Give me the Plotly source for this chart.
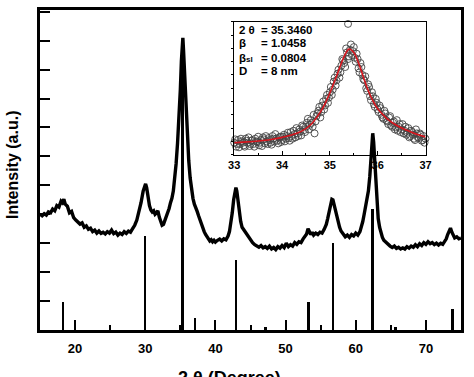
import plotly.graph_objects as go

# ---- main XRD pattern (2theta, intensity a.u.) ----
xrd_x = [15.0,15.3,15.6,15.9,16.2,16.5,16.8,17.1,17.4,17.7,18.0,18.2,18.4,18.6,18.9,19.2,19.5,19.8,20.1,20.4,
         20.7,21.0,21.3,21.6,21.9,22.2,22.5,22.8,23.1,23.4,23.7,24.0,24.3,24.6,24.9,25.2,25.5,25.8,26.1,26.4,
         26.7,27.0,27.3,27.6,27.9,28.2,28.5,28.8,29.1,29.4,29.7,29.9,30.05,30.2,30.4,30.6,30.8,31.0,31.2,31.4,
         31.6,31.8,32.0,32.2,32.4,32.6,32.8,33.0,33.2,33.4,33.6,33.8,34.0,34.2,34.4,34.6,34.8,35.0,35.15,35.3,
         35.36,35.45,35.6,35.8,36.0,36.2,36.4,36.6,36.8,37.0,37.2,37.4,37.6,37.8,38.0,38.2,38.4,38.6,38.8,39.0,
         39.2,39.4,39.6,39.8,40.0,40.3,40.6,40.9,41.2,41.5,41.8,42.0,42.2,42.4,42.6,42.8,42.92,43.05,43.2,43.4,
         43.6,43.8,44.0,44.2,44.4,44.6,44.8,45.0,45.3,45.6,45.9,46.2,46.5,46.8,47.1,47.4,47.7,48.0,48.3,48.6,
         48.9,49.2,49.5,49.8,50.1,50.4,50.7,51.0,51.3,51.6,51.9,52.2,52.5,52.8,53.0,53.2,53.4,53.6,53.8,54.0,
         54.3,54.6,54.9,55.2,55.5,55.8,56.0,56.2,56.4,56.6,56.75,56.9,57.1,57.3,57.5,57.7,57.9,58.1,58.3,58.5,
         58.8,59.1,59.4,59.7,60.0,60.3,60.6,60.8,61.0,61.2,61.4,61.6,61.8,62.0,62.15,62.3,62.42,62.55,62.7,62.85,
         63.0,63.2,63.4,63.6,63.8,64.0,64.3,64.6,64.9,65.2,65.5,65.8,66.1,66.4,66.7,67.0,67.3,67.6,67.9,68.2,
         68.5,68.8,69.1,69.4,69.7,70.0,70.3,70.6,70.9,71.2,71.5,71.8,72.1,72.4,72.7,72.9,73.1,73.3,73.5,73.7,
         73.9,74.1,74.4,74.7,75.0]
xrd_y = [4.00,3.95,4.02,3.97,4.08,4.05,4.18,4.12,4.30,4.25,4.45,4.40,4.52,4.35,4.28,4.05,4.10,3.88,3.80,3.72,
         3.66,3.70,3.55,3.60,3.48,3.52,3.40,3.45,3.35,3.42,3.34,3.38,3.32,3.40,3.35,3.45,3.33,3.38,3.28,3.35,
         3.30,3.40,3.34,3.42,3.38,3.50,3.62,3.80,4.05,4.40,4.80,5.00,5.05,4.92,4.55,4.30,4.15,4.08,4.12,4.00,
         4.05,4.12,3.90,3.75,3.62,3.65,3.78,3.92,4.05,4.20,4.40,4.55,4.80,5.20,5.75,6.45,7.25,8.30,9.30,10.00,
         10.10,9.70,8.90,7.70,6.70,5.85,5.25,4.85,4.55,4.35,4.25,4.10,3.95,3.80,3.62,3.52,3.40,3.30,3.22,3.15,
         3.08,3.12,3.05,3.10,3.04,3.10,3.14,3.08,3.15,3.12,3.25,3.40,3.70,4.05,4.50,4.85,4.92,4.80,4.45,4.05,
         3.75,3.55,3.48,3.40,3.30,3.25,3.20,3.12,3.02,2.95,2.90,2.86,2.92,2.84,2.88,2.82,2.90,2.80,2.85,2.78,
         2.88,2.83,2.92,2.85,3.00,2.88,2.95,2.90,3.02,2.96,3.05,3.02,3.15,3.25,3.32,3.50,3.40,3.30,3.38,3.28,
         3.35,3.30,3.38,3.35,3.48,3.65,3.85,4.10,4.35,4.52,4.50,4.35,4.10,3.88,3.70,3.55,3.42,3.35,3.28,3.22,
         3.28,3.20,3.30,3.25,3.35,3.28,3.40,3.55,3.75,4.00,4.25,4.50,4.80,5.30,5.90,6.55,6.80,6.50,5.80,5.00,
         4.30,3.85,3.55,3.32,3.20,3.10,3.02,2.96,2.90,2.85,2.90,2.82,2.86,2.80,2.84,2.80,2.88,2.83,2.90,2.86,
         2.95,2.88,2.98,2.92,3.02,2.96,3.05,2.98,3.02,2.95,3.00,2.94,3.00,2.96,3.05,3.15,3.30,3.45,3.52,3.38,
         3.25,3.18,3.22,3.15,3.18]

# ---- reference (standard) pattern sticks ----
ref_pos = [18.27, 29.97, 35.34, 37.07, 42.92, 47.1, 53.3, 56.75, 62.42, 65.65, 73.78]
ref_h = [0.97, 3.25, 9.0, 0.42, 2.42, 0.1, 0.97, 2.99, 4.17, 0.12, 0.74]

# ---- inset: (311) peak profile ----
obs_x1 = [33.00,33.04,33.08,33.12,33.16,33.20,33.24,33.28,33.32,33.36,33.40,33.44,33.48,33.52,33.56,33.60,33.64,
          33.68,33.72,33.76,33.80,33.84,33.88,33.92,33.96,34.00,34.04,34.08,34.12,34.16,34.20,34.24,34.28,34.32,
          34.36,34.40,34.44,34.48,34.52,34.56,34.60,34.64,34.68,34.72,34.76,34.80,34.84,34.88,34.92,34.96,35.00,
          35.04,35.08,35.12,35.16,35.20,35.24,35.28,35.32,35.36,35.40,35.44,35.48,35.52,35.56,35.60,35.64,35.68,
          35.72,35.76,35.80,35.84,35.88,35.92,35.96,36.00,36.04,36.08,36.12,36.16,36.20,36.24,36.28,36.32,36.36,
          36.40,36.44,36.48,36.52,36.56,36.60,36.64,36.68,36.72,36.76,36.80,36.84,36.88,36.92,36.96,37.00]
obs_y1 = [9,6,11,8,10,7,12,9,6.5,10.5,8,12,9.5,7,11,13,8.5,10,12.5,9,14,10,12,8.5,13.5,
          11,15,12,16.5,10.5,14,18,13,16,19,14.5,21,17,24,19,26,21,16,29,33,28,37,34,42,39,47,
          45,55,52,61,58,67,71,66,77,74,83,78,73,76,65,69,60,56,50,53,44,47,38,42,34,37,30,27,31,25,28,22,24,19,
          26,21,17,23,18,15,20,14,17,12,19,13,16,10.5,14,12]
obs_x2 = [33.02,33.06,33.10,33.14,33.18,33.22,33.26,33.30,33.34,33.38,33.42,33.46,33.50,33.54,33.58,33.62,33.66,
          33.70,33.74,33.78,33.82,33.86,33.90,33.94,33.98,34.02,34.06,34.10,34.14,34.18,34.22,34.26,34.30,34.34,
          34.38,34.42,34.46,34.50,34.54,34.58,34.62,34.66,34.70,34.74,34.78,34.82,34.86,34.90,34.94,34.98,35.02,
          35.06,35.10,35.14,35.18,35.22,35.26,35.30,35.34,35.38,35.42,35.46,35.50,35.54,35.58,35.62,35.66,35.70,
          35.74,35.78,35.82,35.86,35.90,35.94,35.98,36.02,36.06,36.10,36.14,36.18,36.22,36.26,36.30,36.34,36.38,
          36.42,36.46,36.50,36.54,36.58,36.62,36.66,36.70,36.74,36.78,36.82,36.86,36.90,36.94,36.98,35.38]
obs_y2 = [11.5,8,5.5,12,9,6,10.5,13,8,11,6,10,13.5,9,6.5,11.5,14,8,11,7.5,12,15.5,10.5,13,9.5,
          13.5,10,14,12.5,17,12,15.5,20,14,17.5,22,18.5,21,27,22.5,24,30,25,31,36,32,40,37,45,43,51,
          49,58,56,64,62,72,69,80,72,79,75,81,70,72,62,66,57,59,48,51,41,44,36,39,32,35,28,33,26,23,29,21,25,20.5,
          18,23,19,16,21,16.5,13,18,15,11,16,12.5,15,11,9,98.5]

fit_x = [33.0,33.2,33.4,33.6,33.8,34.0,34.2,34.4,34.6,34.8,34.9,35.0,35.1,35.2,35.3,35.4,35.5,35.6,35.7,35.8,
         35.9,36.0,36.2,36.4,36.6,36.8,37.0]
fit_y = [9.0,9.4,9.9,10.6,11.6,13.0,14.8,17.5,22.5,32.0,38.5,46.5,55.5,65.0,74.0,79.5,77.0,69.0,58.5,48.5,
         40.5,34.5,27.0,22.0,18.5,15.5,13.4]

ann_labels = ["2 θ", "β", "β<span style='font-size:8px'>sl</span>", "D"]
ann_values = ["= 35.3460", "= 1.0458", "= 0.0804", "= 8 nm"]

FONT = "Liberation Sans, Arial, sans-serif"

fig = go.Figure()

# inset traces (first subplot, drawn underneath main)
fig.add_trace(go.Scatter(x=obs_x1 + obs_x2, y=obs_y1 + obs_y2, mode="markers",
                         marker=dict(symbol="circle-open", size=7, color="#444", line=dict(width=0.9)),
                         xaxis="x", yaxis="y", showlegend=False, cliponaxis=False))
fig.add_trace(go.Scatter(x=fit_x, y=fit_y, mode="lines", line=dict(color="#d8141c", width=1.6, shape="spline"),
                         xaxis="x", yaxis="y", showlegend=False))

# main traces
fig.add_trace(go.Bar(x=ref_pos, y=ref_h, width=0.36, marker=dict(color="black", line=dict(width=0)),
                     xaxis="x2", yaxis="y2", showlegend=False))
fig.add_trace(go.Scatter(x=xrd_x, y=xrd_y, mode="lines", line=dict(color="black", width=3.4),
                         xaxis="x2", yaxis="y2", showlegend=False))

W, H = 474, 377
L, R, T, B = 40, 7, 7, 47
pw, ph = W - L - R, H - T - B

def px(x):
    return (x - L) / pw

def py(y):
    return (H - B - y) / ph

fig.update_layout(
    width=W, height=H,
    margin=dict(l=L, r=R, t=T, b=B),
    paper_bgcolor="white", plot_bgcolor="rgba(0,0,0,0)",
    bargap=0,
    font=dict(family=FONT, color="black"),
    xaxis=dict(domain=[px(237), px(431)], anchor="y", range=[33, 37], dtick=1, tick0=33,
               showline=True, linecolor="black", linewidth=1, mirror=True,
               ticks="inside", ticklen=4, tickwidth=1, tickcolor="black",
               minor=dict(dtick=0.5, ticks="inside", ticklen=2, tickcolor="black"),
               showgrid=False, zeroline=False,
               tickfont=dict(size=11, family=FONT, weight="bold")),
    yaxis=dict(domain=[py(153), py(19)], anchor="x", range=[0, 100], dtick=10,
               showline=True, linecolor="black", linewidth=1, mirror=True,
               ticks="outside", ticklen=2, tickwidth=1, tickcolor="black",
               showticklabels=False, showgrid=False, zeroline=False),
    xaxis2=dict(domain=[0, 1], anchor="y2", range=[15, 75], dtick=10, tick0=20,
                showline=True, linecolor="black", linewidth=2.5, mirror=True,
                ticks="inside", ticklen=10, tickwidth=2, tickcolor="black",
                minor=dict(dtick=5, tick0=15, ticks="inside", ticklen=5, tickwidth=2, tickcolor="black"),
                showgrid=False, zeroline=False, ticklabelstandoff=5,
                tickfont=dict(size=13, family=FONT, weight="bold")),
    yaxis2=dict(domain=[0, 1], anchor="x2", range=[0, 11.06], dtick=1, tick0=0,
                showline=True, linecolor="black", linewidth=2.5, mirror=True,
                ticks="inside", ticklen=10, tickwidth=2, tickcolor="black",
                showticklabels=False, showgrid=False, zeroline=False),
)

ys = [27, 40.5, 55, 68.5]
for lab, val, yy in zip(ann_labels, ann_values, ys):
    fig.add_annotation(x=px(240), y=py(yy), xref="paper", yref="paper", text=lab, showarrow=False,
                       xanchor="left", yanchor="middle",
                       font=dict(size=11.5, family=FONT, weight="bold", color="black"))
    fig.add_annotation(x=px(262), y=py(yy), xref="paper", yref="paper", text=val, showarrow=False,
                       xanchor="left", yanchor="middle",
                       font=dict(size=11.5, family=FONT, weight="bold", color="black"))

fig.add_annotation(x=px(12), y=py(163), xref="paper", yref="paper", text="Intensity (a.u.)",
                   showarrow=False, textangle=-90, xanchor="center", yanchor="middle",
                   font=dict(size=16, family=FONT, weight="bold", color="black"))
fig.add_annotation(x=px(232), y=py(366), xref="paper", yref="paper", text="2 θ (Degree)",
                   showarrow=False, xanchor="center", yanchor="top",
                   font=dict(size=18, family=FONT, weight="bold", color="black"))

fig.write_html("out.html", config={"displayModeBar": False},
               post_script="document.body.style.margin='0';document.body.style.overflow='hidden';")
